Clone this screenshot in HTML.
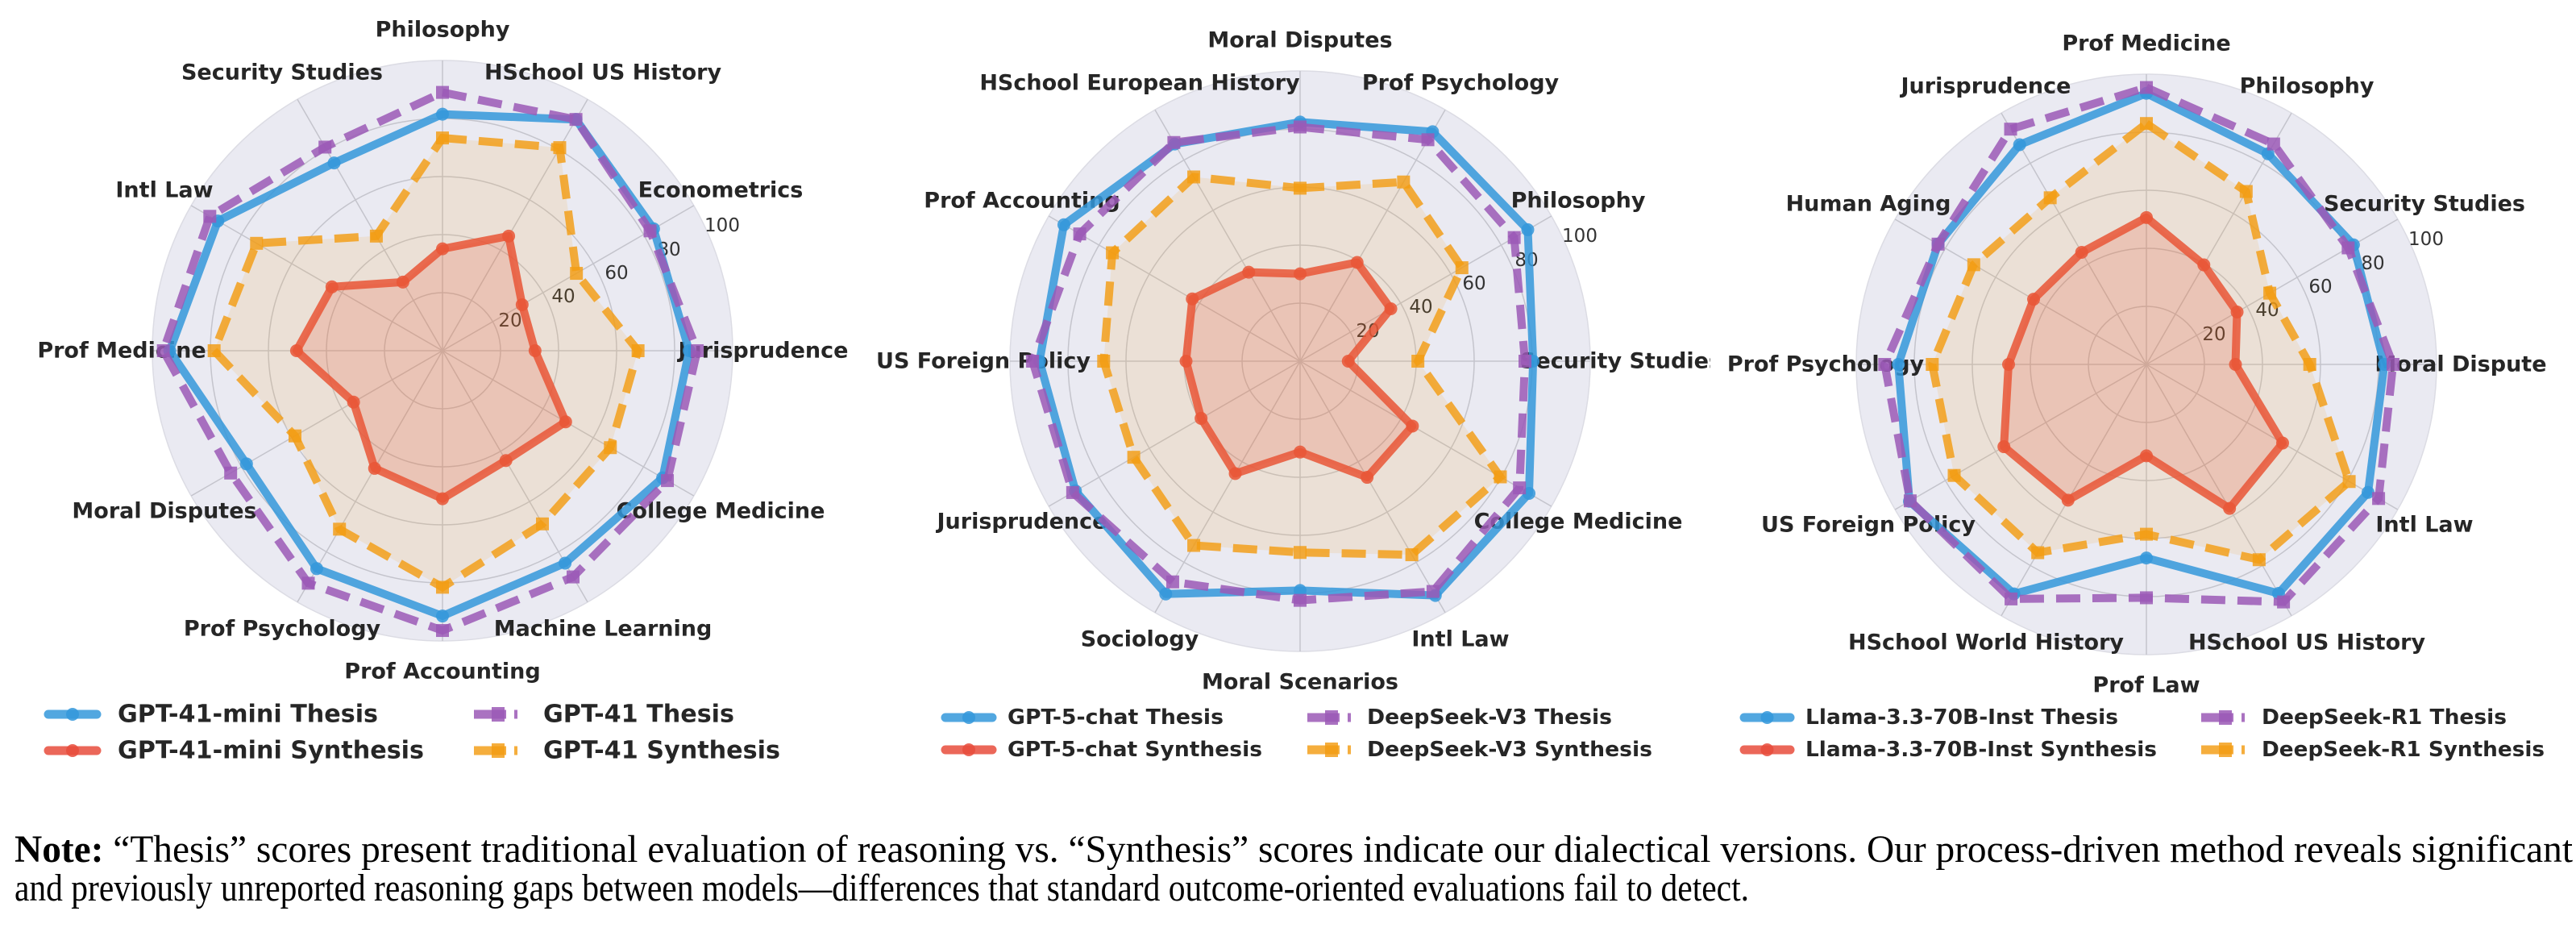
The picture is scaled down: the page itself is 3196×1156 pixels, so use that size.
<!DOCTYPE html>
<html><head><meta charset="utf-8">
<style>
html,body{margin:0;padding:0;background:#fff;}
svg{display:block;}
.lab{font-family:"DejaVu Sans","Liberation Sans",sans-serif;font-weight:bold;font-size:27px;fill:#262626;}
.tick{font-family:"DejaVu Sans","Liberation Sans",sans-serif;font-size:23px;fill:#333;}
.leg1{font-family:"DejaVu Sans","Liberation Sans",sans-serif;font-weight:bold;font-size:30px;fill:#262626;}
.leg2{font-family:"DejaVu Sans","Liberation Sans",sans-serif;font-weight:bold;font-size:26px;fill:#262626;}
.note{font-family:"Liberation Serif",serif;font-size:48px;fill:#000;}
</style></head><body>
<svg id="s" width="3196" height="1156" viewBox="0 0 3196 1156" xmlns="http://www.w3.org/2000/svg">
<defs>
<clipPath id="c1"><rect x="0" y="0" width="1062" height="1000"/></clipPath>
<clipPath id="c2"><rect x="1062" y="0" width="1060" height="1000"/></clipPath>
<clipPath id="c3"><rect x="2122" y="0" width="1038" height="1000"/></clipPath>
</defs>
<g clip-path="url(#c1)">
<g id="bg1"></g>
<g text-anchor="middle" dominant-baseline="central" class="lab">
<text x="549" y="37">Philosophy</text>
<text x="748" y="90">HSchool US History</text>
<text x="894" y="236">Econometrics</text>
<text x="947" y="435">Jurisprudence</text>
<text x="894" y="634">College Medicine</text>
<text x="748" y="780">Machine Learning</text>
<text x="549" y="833">Prof Accounting</text>
<text x="350" y="780">Prof Psychology</text>
<text x="204" y="634">Moral Disputes</text>
<text x="151" y="435">Prof Medicine</text>
<text x="204" y="236">Intl Law</text>
<text x="350" y="90">Security Studies</text>
</g>
<g text-anchor="middle" dominant-baseline="central" class="tick">
<text x="633" y="398">20</text><text x="699" y="368">40</text><text x="765" y="339">60</text><text x="830" y="310">80</text><text x="896" y="280">100</text>
</g>
<g id="d1"></g>
</g>
<g clip-path="url(#c2)">
<rect x="1062" y="0" width="1060" height="1000" fill="#fff"/>
<g id="bg2"></g>
<g text-anchor="middle" dominant-baseline="central" class="lab">
<text x="1613" y="50">Moral Disputes</text>
<text x="1812" y="103">Prof Psychology</text>
<text x="1958" y="249">Philosophy</text>
<text x="2011" y="448">Security Studies</text>
<text x="1958" y="647">College Medicine</text>
<text x="1812" y="793">Intl Law</text>
<text x="1613" y="846">Moral Scenarios</text>
<text x="1414" y="793">Sociology</text>
<text x="1268" y="647">Jurisprudence</text>
<text x="1220" y="448">US Foreign Policy</text>
<text x="1268" y="249">Prof Accounting</text>
<text x="1414" y="103">HSchool European History</text>
</g>
<g text-anchor="middle" dominant-baseline="central" class="tick">
<text x="1697" y="411">20</text><text x="1763" y="381">40</text><text x="1829" y="352">60</text><text x="1894" y="323">80</text><text x="1960" y="293">100</text>
</g>
<g id="d2"></g>
</g>
<g clip-path="url(#c3)">
<rect x="2122" y="0" width="1038" height="1000" fill="#fff"/>
<g id="bg3"></g>
<g text-anchor="middle" dominant-baseline="central" class="lab">
<text x="2663" y="54">Prof Medicine</text>
<text x="2862" y="107">Philosophy</text>
<text x="3008" y="253">Security Studies</text>
<text x="3061" y="452">Moral Disputes</text>
<text x="3008" y="651">Intl Law</text>
<text x="2862" y="797">HSchool US History</text>
<text x="2663" y="850">Prof Law</text>
<text x="2464" y="797">HSchool World History</text>
<text x="2318" y="651">US Foreign Policy</text>
<text x="2265" y="452">Prof Psychology</text>
<text x="2318" y="253">Human Aging</text>
<text x="2464" y="107">Jurisprudence</text>
</g>
<g text-anchor="middle" dominant-baseline="central" class="tick">
<text x="2747" y="415">20</text><text x="2813" y="385">40</text><text x="2879" y="356">60</text><text x="2944" y="327">80</text><text x="3010" y="297">100</text>
</g>
<g id="d3"></g>
</g>
<g id="legh"></g>
<g dominant-baseline="central">
<text class="leg1" x="146" y="886" textLength="323" lengthAdjust="spacingAndGlyphs">GPT-41-mini Thesis</text>
<text class="leg1" x="146" y="931" textLength="380" lengthAdjust="spacingAndGlyphs">GPT-41-mini Synthesis</text>
<text class="leg1" x="674" y="886" textLength="237" lengthAdjust="spacingAndGlyphs">GPT-41 Thesis</text>
<text class="leg1" x="674" y="931" textLength="294" lengthAdjust="spacingAndGlyphs">GPT-41 Synthesis</text>
<text class="leg2" x="1250" y="890" textLength="268" lengthAdjust="spacingAndGlyphs">GPT-5-chat Thesis</text>
<text class="leg2" x="1250" y="930" textLength="316" lengthAdjust="spacingAndGlyphs">GPT-5-chat Synthesis</text>
<text class="leg2" x="1696" y="890" textLength="304" lengthAdjust="spacingAndGlyphs">DeepSeek-V3 Thesis</text>
<text class="leg2" x="1696" y="930" textLength="354" lengthAdjust="spacingAndGlyphs">DeepSeek-V3 Synthesis</text>
<text class="leg2" x="2240" y="890" textLength="388" lengthAdjust="spacingAndGlyphs">Llama-3.3-70B-Inst Thesis</text>
<text class="leg2" x="2240" y="930" textLength="436" lengthAdjust="spacingAndGlyphs">Llama-3.3-70B-Inst Synthesis</text>
<text class="leg2" x="2806" y="890" textLength="304" lengthAdjust="spacingAndGlyphs">DeepSeek-R1 Thesis</text>
<text class="leg2" x="2806" y="930" textLength="351" lengthAdjust="spacingAndGlyphs">DeepSeek-R1 Synthesis</text>
</g>
<text class="note" x="18" y="1069" textLength="3174" lengthAdjust="spacingAndGlyphs"><tspan font-weight="bold">Note:</tspan> “Thesis” scores present traditional evaluation of reasoning vs. “Synthesis” scores indicate our dialectical versions. Our process-driven method reveals significant</text>
<text class="note" x="18" y="1117" textLength="2152" lengthAdjust="spacingAndGlyphs">and previously unreported reasoning gaps between models—differences that standard outcome-oriented evaluations fail to detect.</text>
</svg>
<script>
(function(){
var NS="http://www.w3.org/2000/svg";
function el(t,a,p){var e=document.createElementNS(NS,t);for(var k in a)e.setAttribute(k,a[k]);p.appendChild(e);return e;}
var R=360;
var BL="rgba(52,152,219,0.85)",RD="rgba(231,76,60,0.85)",PU="rgba(155,89,182,0.85)",OR="rgba(243,156,18,0.82)";
var charts=[
 {cx:549,cy:435,bg:"bg1",d:"d1",
  b:[81.5,92,84,85,87.6,84.5,91.4,86.7,78,94,89.4,74.7],
  p:[89,92,82.6,87.8,89.5,90,96.4,92.5,84.3,96.2,92.6,81],
  o:[73.3,80.8,53.3,67.4,66.8,68.9,81.5,71,58.7,78.7,74,45.6],
  r:[35.1,45.6,31.7,31.9,49,43.7,51,46.8,35.4,50.3,44,27.3]},
 {cx:1613,cy:448,bg:"bg2",d:"d2",
  b:[82.4,91.3,90.6,80.3,91.1,93.2,79,92.6,89.4,89.8,94,86.4],
  p:[80.7,88.1,85.2,77.5,87.3,91.6,82.4,87.8,90.5,92.2,87.7,87],
  o:[59.6,71.3,64.4,40.6,79.7,77,65.9,73.3,66.2,67.7,74.7,73.3],
  r:[30.1,39.3,36.1,16.6,44.7,46.2,31.3,44.7,39.4,39.3,42.9,35.4]},
 {cx:2663,cy:452,bg:"bg3",d:"d3",
  b:[93.4,83.8,82.4,82,88.2,91.1,66.7,91.3,94.3,85.5,82.9,87.4],
  p:[95.4,87.7,80.3,85,92.4,94.5,80.4,93.3,94,90.2,82.9,93.6],
  o:[83,68.8,49.1,56.3,80.7,77.7,58.5,74.9,76.5,73.8,68.7,66.3],
  r:[50.6,39.6,36.1,30.7,54.2,57.3,31.5,54,56.7,47.5,44.9,44.6]}
];
function pts(c,v){var a=[];for(var i=0;i<12;i++){var t=i*Math.PI/6;var rr=v[i]/100*R;a.push([c.cx+rr*Math.sin(t),c.cy-rr*Math.cos(t)]);}return a;}
function ps(a){return a.map(function(q){return q[0].toFixed(1)+","+q[1].toFixed(1);}).join(" ");}
charts.forEach(function(c){
 var g=document.getElementById(c.bg);
 el("circle",{cx:c.cx,cy:c.cy,r:R,fill:"#eaeaf2",stroke:"#dcdce4","stroke-width":1.5},g);
 [20,40,60,80].forEach(function(v){el("circle",{cx:c.cx,cy:c.cy,r:v/100*R,fill:"none",stroke:"#c4c4cc","stroke-width":1.5},g);});
 for(var i=0;i<12;i++){var t=i*Math.PI/6;el("line",{x1:c.cx,y1:c.cy,x2:c.cx+R*Math.sin(t),y2:c.cy-R*Math.cos(t),stroke:"#c4c4cc","stroke-width":1.5},g);}
 var d=document.getElementById(c.d);
 var b=pts(c,c.b),r=pts(c,c.r),p=pts(c,c.p),o=pts(c,c.o);
 el("polygon",{points:ps(b),fill:"none",stroke:BL,"stroke-width":10,"stroke-linejoin":"round"},d);
 b.forEach(function(q){el("circle",{cx:q[0],cy:q[1],r:8,fill:BL},d);});
 el("polygon",{points:ps(r),fill:"rgba(231,76,60,0.2)",stroke:RD,"stroke-width":10,"stroke-linejoin":"round"},d);
 r.forEach(function(q){el("circle",{cx:q[0],cy:q[1],r:8,fill:RD},d);});
 el("polygon",{points:ps(p),fill:"none",stroke:PU,"stroke-width":10,"stroke-dasharray":"30 15"},d);
 p.forEach(function(q){el("rect",{x:q[0]-8,y:q[1]-8,width:16,height:16,fill:PU},d);});
 el("polygon",{points:ps(o),fill:"rgba(243,156,18,0.12)",stroke:OR,"stroke-width":10,"stroke-dasharray":"30 15"},d);
 o.forEach(function(q){el("rect",{x:q[0]-8,y:q[1]-8,width:16,height:16,fill:OR},d);});
});
var L=document.getElementById("legh");
function solid(x1,x2,y,col){el("line",{x1:x1,y1:y,x2:x2,y2:y,stroke:col,"stroke-width":11,"stroke-linecap":"round"},L);el("circle",{cx:(x1+x2)/2,cy:y,r:8,fill:col},L);}
function dash(x1,y,col){el("line",{x1:x1,y1:y,x2:x1+40,y2:y,stroke:col,"stroke-width":11},L);el("line",{x1:x1+50,y1:y,x2:x1+54,y2:y,stroke:col,"stroke-width":11},L);el("rect",{x:x1+22,y:y-9,width:16,height:18,fill:col},L);}
solid(60,120,886,BL);solid(60,120,931,RD);dash(588,886,PU);dash(588,931,OR);
solid(1173,1231,890,BL);solid(1173,1231,930,RD);dash(1622,890,PU);dash(1622,930,OR);
solid(2164,2221,890,BL);solid(2164,2221,930,RD);dash(2731,890,PU);dash(2731,930,OR);
})();
</script>
</body></html>
